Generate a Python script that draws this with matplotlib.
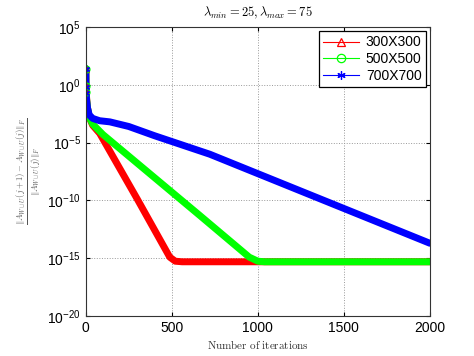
import matplotlib
matplotlib.use('Agg')
import matplotlib.pyplot as plt
import numpy as np
from matplotlib.lines import Line2D

plt.rcParams['font.family'] = ['Liberation Sans', 'DejaVu Sans']
plt.rcParams['mathtext.fontset'] = 'custom'
plt.rcParams['mathtext.rm'] = 'Liberation Sans'
plt.rcParams['mathtext.it'] = 'Liberation Sans:italic'
plt.rcParams['mathtext.bf'] = 'Liberation Sans:bold'

# values: iteration, log10(relative change)
red_iter = [0, 1, 2, 5, 10, 20, 40, 81, 300, 488, 520, 560, 2000]
red_log = [1.4, 0.0, -0.5, -1.2, -2.0, -2.8, -3.5, -4.2, -9.9, -14.9, -15.25, -15.3, -15.3]

green_iter = [0, 1, 2, 5, 10, 20, 40, 100, 663, 950, 1000, 1040, 2000]
green_log = [1.4, -0.1, -0.6, -1.3, -2.0, -2.8, -3.4, -4.3, -11.3, -14.9, -15.25, -15.3, -15.3]

blue_iter = [0, 1, 2, 5, 10, 20, 40, 80, 140, 250, 400, 721, 2000]
blue_log = [1.4, -0.2, -0.7, -1.4, -2.0, -2.6, -2.9, -3.1, -3.2, -3.6, -4.4, -6.0, -13.7]

labels = ['300X300', '500X500', '700X700']
colors = ['#ff0000', '#00ff00', '#0000ff']
markers = ['^', 'o', (6, 2, 0)]

series = [(red_iter, red_log), (green_iter, green_log), (blue_iter, blue_log)]

fig = plt.figure(figsize=(4.74, 3.56), dpi=100)
ax = fig.add_axes([0.181, 0.112, 0.726, 0.812])

for (it, lg), c in zip(series, colors):
    ax.semilogy(it, 10.0 ** np.array(lg), color=c, lw=5, solid_capstyle='round',
                solid_joinstyle='round')
for (it, lg), c, m in zip(series, colors, markers):
    ax.semilogy(it[:3], 10.0 ** np.array(lg[:3]), color=c, lw=0.8, marker=m,
                mfc='none', ms=5, mew=0.9)

ax.set_xlim(0, 2000)
ax.set_ylim(1e-20, 1e5)
ax.set_xticks([0, 500, 1000, 1500, 2000])
ax.set_yticks([1e-20, 1e-15, 1e-10, 1e-5, 1e0, 1e5])
ax.minorticks_off()
ax.tick_params(direction='in', labelsize=10, length=3, top=True, right=True)
ax.grid(True, ls=':', color='#999999', lw=0.7)
for s in ax.spines.values():
    s.set_color('#333333')
    s.set_linewidth(0.8)

ax.set_title(r'$\lambda_{min} = 25, \lambda_{max} = 75$', fontsize=9,
             math_fontfamily='cm', pad=8)
ax.set_xlabel(r'$\mathrm{Number\ of\ iterations}$', fontsize=8,
              math_fontfamily='cm', labelpad=2, color='#333333')
ax.set_ylabel(r'$\frac{\|A_{W\cup U}(j+1)-A_{W\cup U}(j)\|_F}{\|A_{W\cup U}(j)\|_F}$',
              fontsize=9, math_fontfamily='cm', color='#555555', labelpad=4)

handles = [Line2D([], [], color=c, marker=m, mfc='none', ms=6, lw=0.8, mew=0.9)
           for c, m in zip(colors, markers)]
leg = ax.legend(handles, labels, loc='upper right', fontsize=10, fancybox=False,
                framealpha=1, edgecolor='black', borderaxespad=0.3,
                handlelength=2.6, labelspacing=0.2, borderpad=0.3,
                handletextpad=0.5)
leg.get_frame().set_linewidth(0.9)

fig.savefig('out.png', dpi=100)
